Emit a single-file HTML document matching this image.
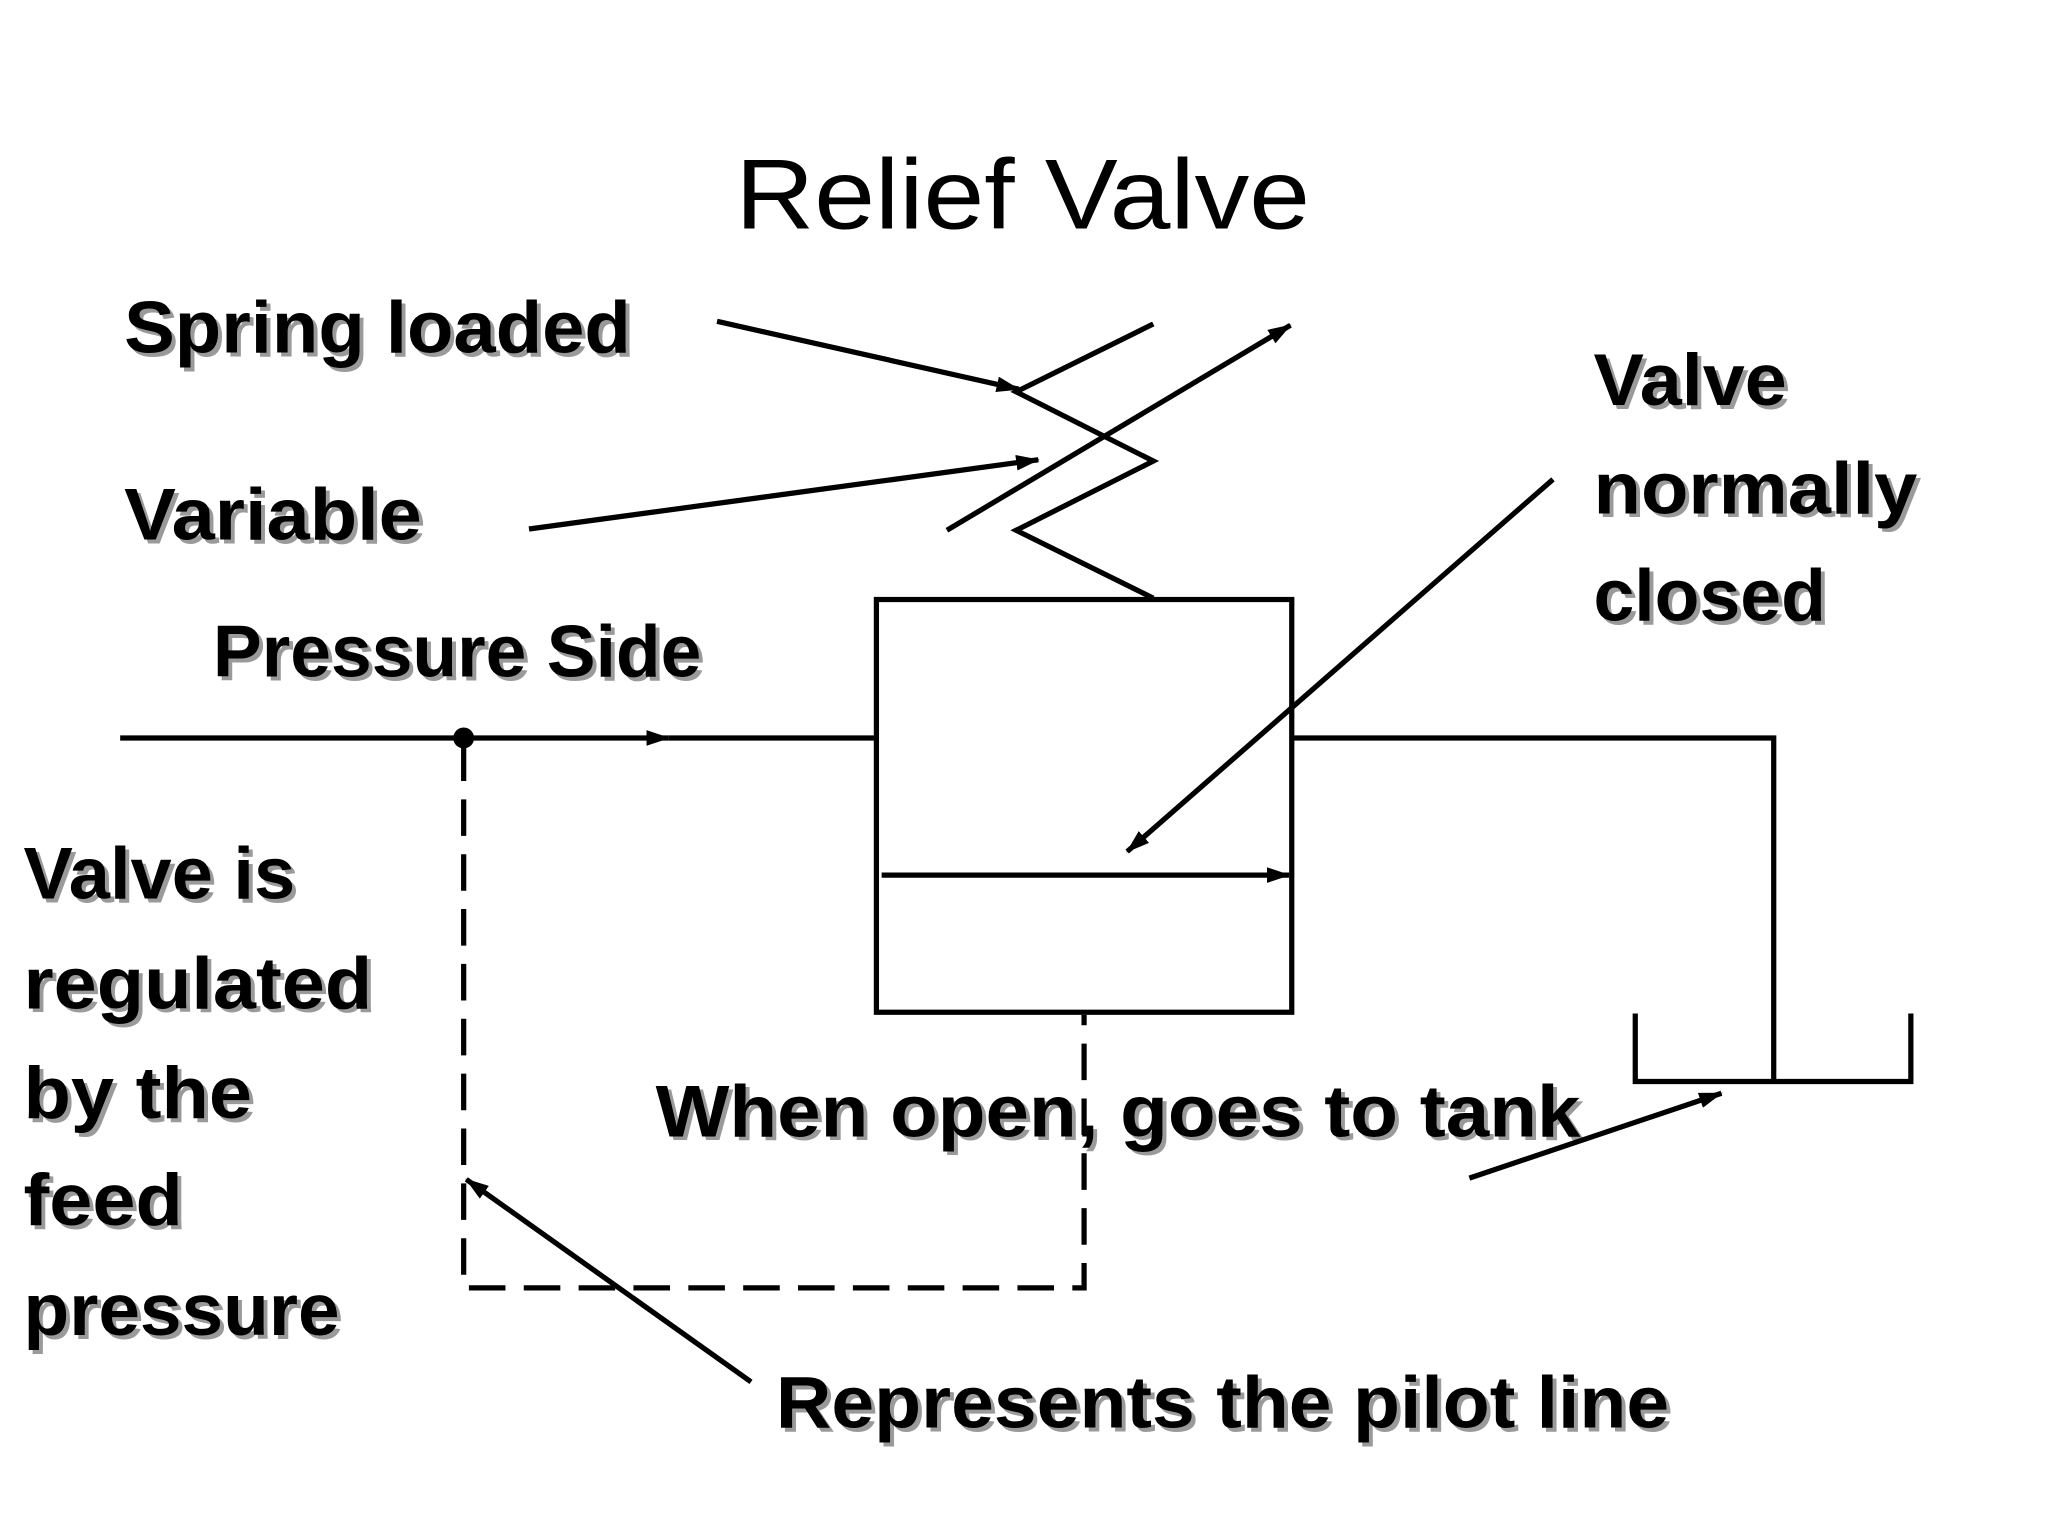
<!DOCTYPE html>
<html><head><style>
html,body{margin:0;padding:0;background:#fff;}
svg{display:block;}
.l{font-family:"Liberation Sans",Arial,sans-serif;font-weight:bold;font-size:56px;}
.s{fill:#9a9a9a;}
</style></head><body>
<svg width="2048" height="1536" viewBox="0 0 1568 1176" preserveAspectRatio="none" xmlns="http://www.w3.org/2000/svg">
<defs>
<marker id="b" markerWidth="18" markerHeight="12" refX="17" refY="6" orient="auto" markerUnits="userSpaceOnUse" viewBox="0 0 18 12">
<path d="M0,0 L18,6 L0,12 z" fill="#000"/></marker>
</defs>
<rect width="1568" height="1176" fill="#fff"/>
<text x="563" y="175" font-family="Liberation Sans,Arial,sans-serif" font-size="76" textLength="440" lengthAdjust="spacingAndGlyphs">Relief Valve</text>

<g class="l">
<g class="s" transform="translate(3,3)">
<text x="95" y="270" textLength="388" lengthAdjust="spacingAndGlyphs">Spring loaded</text>
<text x="95" y="413" textLength="228" lengthAdjust="spacingAndGlyphs">Variable</text>
<text x="163" y="518" textLength="374" lengthAdjust="spacingAndGlyphs">Pressure Side</text>
<text x="1220" y="310" textLength="148" lengthAdjust="spacingAndGlyphs">Valve</text>
<text x="1220" y="393" textLength="248" lengthAdjust="spacingAndGlyphs">normally</text>
<text x="1220" y="475" textLength="178" lengthAdjust="spacingAndGlyphs">closed</text>
<text x="18" y="688" textLength="208" lengthAdjust="spacingAndGlyphs">Valve is</text>
<text x="18" y="772" textLength="267" lengthAdjust="spacingAndGlyphs">regulated</text>
<text x="18" y="856" textLength="175" lengthAdjust="spacingAndGlyphs">by the</text>
<text x="18" y="938" textLength="122" lengthAdjust="spacingAndGlyphs">feed</text>
<text x="18" y="1022" textLength="242" lengthAdjust="spacingAndGlyphs">pressure</text>
<text x="502" y="870" textLength="708" lengthAdjust="spacingAndGlyphs">When open, goes to tank</text>
<text x="594" y="1093" textLength="684" lengthAdjust="spacingAndGlyphs">Represents the pilot line</text>
</g>
<g fill="#000">
<text x="95" y="270" textLength="388" lengthAdjust="spacingAndGlyphs">Spring loaded</text>
<text x="95" y="413" textLength="228" lengthAdjust="spacingAndGlyphs">Variable</text>
<text x="163" y="518" textLength="374" lengthAdjust="spacingAndGlyphs">Pressure Side</text>
<text x="1220" y="310" textLength="148" lengthAdjust="spacingAndGlyphs">Valve</text>
<text x="1220" y="393" textLength="248" lengthAdjust="spacingAndGlyphs">normally</text>
<text x="1220" y="475" textLength="178" lengthAdjust="spacingAndGlyphs">closed</text>
<text x="18" y="688" textLength="208" lengthAdjust="spacingAndGlyphs">Valve is</text>
<text x="18" y="772" textLength="267" lengthAdjust="spacingAndGlyphs">regulated</text>
<text x="18" y="856" textLength="175" lengthAdjust="spacingAndGlyphs">by the</text>
<text x="18" y="938" textLength="122" lengthAdjust="spacingAndGlyphs">feed</text>
<text x="18" y="1022" textLength="242" lengthAdjust="spacingAndGlyphs">pressure</text>
<text x="502" y="870" textLength="708" lengthAdjust="spacingAndGlyphs">When open, goes to tank</text>
<text x="594" y="1093" textLength="684" lengthAdjust="spacingAndGlyphs">Represents the pilot line</text>
</g>
</g>

<g stroke="#000" stroke-width="4" fill="none">
<line x1="92" y1="565" x2="512" y2="565" marker-end="url(#b)"/>
<line x1="512" y1="565" x2="671" y2="565"/>
<rect x="671" y="459" width="318" height="316"/>
<line x1="675" y1="670" x2="987" y2="670" marker-end="url(#b)"/>
<polyline points="989,565 1358,565 1358,828"/>
<polyline points="1252,776 1252,828 1463,828 1463,776"/>
<polyline points="883,248 778,300 883,353 778,406 883,458"/>
<line x1="725" y1="406" x2="988" y2="249" marker-end="url(#b)"/>
<line x1="549" y1="246" x2="780" y2="298" marker-end="url(#b)"/>
<line x1="405" y1="405" x2="795" y2="352" marker-end="url(#b)"/>
<line x1="1189" y1="367" x2="863" y2="652" marker-end="url(#b)"/>
<line x1="1125" y1="902" x2="1318" y2="837" marker-end="url(#b)"/>
<line x1="575" y1="1058" x2="357" y2="903" marker-end="url(#b)"/>
<polyline points="355,570 355,986 830,986 830,777" stroke-dasharray="28,14"/>
</g>
<circle cx="355" cy="565" r="8" fill="#000"/>
</svg>
</body></html>
